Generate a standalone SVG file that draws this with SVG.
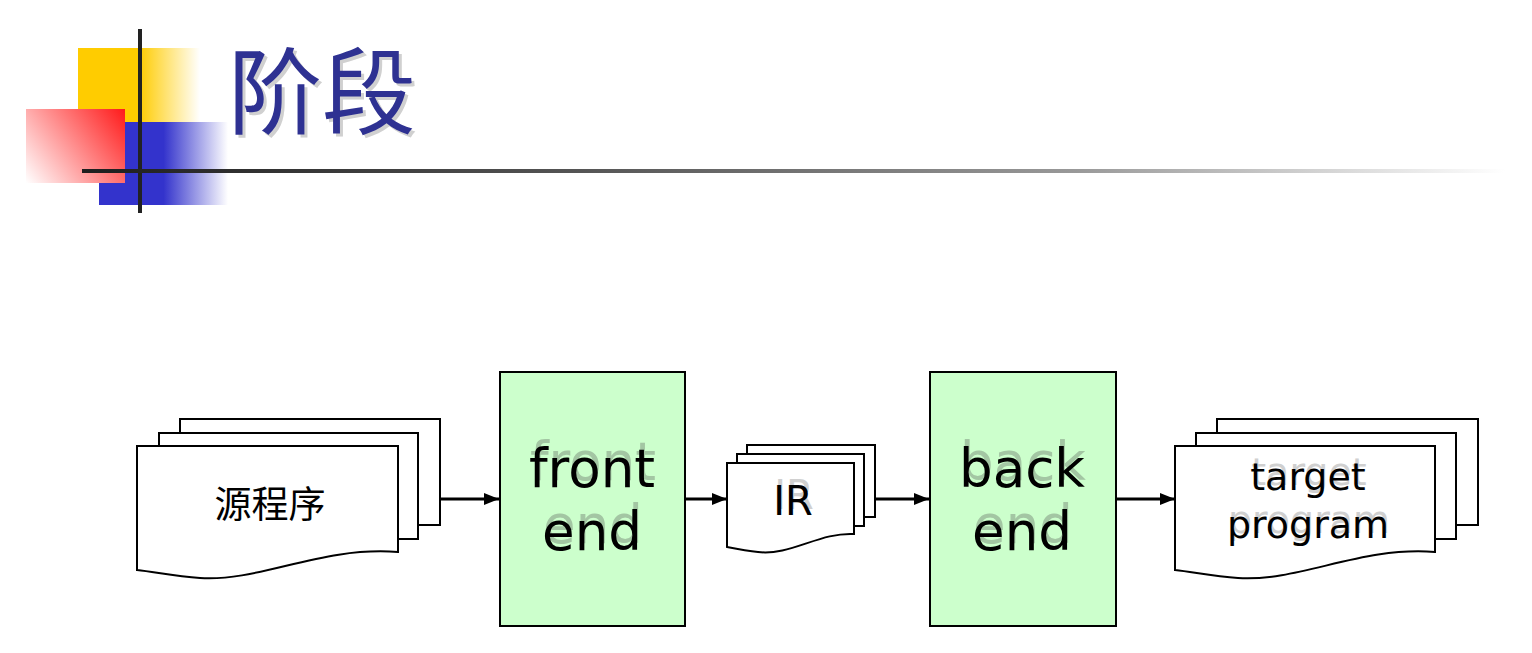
<svg xmlns="http://www.w3.org/2000/svg" width="1532" height="653" viewBox="0 0 1532 653">
<style>
.page{fill:#fff;stroke:#000;stroke-width:2}
.box{fill:#CCFFCC;stroke:#000;stroke-width:2}
.lbl{font-family:"DejaVu Sans",Verdana,sans-serif;text-anchor:middle;fill:#000}
.shd{font-family:"DejaVu Sans",Verdana,sans-serif;text-anchor:middle;fill:#A3C6A3}
.shw{font-family:"DejaVu Sans",Verdana,sans-serif;text-anchor:middle;fill:#D0D0D0}
.conn{stroke:#000;stroke-width:3;fill:none}
</style>
<defs>
<marker id="arr" markerWidth="5" markerHeight="4" viewBox="0 0 10 8" refX="10" refY="4" orient="auto" markerUnits="strokeWidth">
<path d="M0,0 L10,4 L0,8 Z" fill="#000"/>
</marker>
<linearGradient id="gy" x1="78" y1="0" x2="200" y2="0" gradientUnits="userSpaceOnUse">
<stop offset="0.5" stop-color="#FFCC00"/><stop offset="1" stop-color="#FFCC00" stop-opacity="0"/>
</linearGradient>
<linearGradient id="gb" x1="99" y1="0" x2="228" y2="0" gradientUnits="userSpaceOnUse">
<stop offset="0.5" stop-color="#3333CC"/><stop offset="1" stop-color="#3333CC" stop-opacity="0"/>
</linearGradient>
<linearGradient id="gr" x1="125" y1="109" x2="26" y2="183" gradientUnits="userSpaceOnUse">
<stop offset="0" stop-color="#FF1A1A"/><stop offset="1" stop-color="#FFFFFF"/>
</linearGradient>
<linearGradient id="gl" x1="82" y1="0" x2="1505" y2="0" gradientUnits="userSpaceOnUse">
<stop offset="0" stop-color="#1E1E1E"/><stop offset="0.35" stop-color="#555"/><stop offset="0.7" stop-color="#999"/><stop offset="1" stop-color="#fff"/>
</linearGradient>
</defs>
<rect width="1532" height="653" fill="#fff"/>
<g id="title">
<rect x="78" y="48" width="122" height="74" fill="url(#gy)"/>
<rect x="99" y="122" width="129" height="83" fill="url(#gb)"/>
<rect x="26" y="109" width="99" height="74" fill="url(#gr)"/>
<rect x="138" y="29" width="4" height="184" fill="#222"/>
<rect x="82" y="169" width="1423" height="4" fill="url(#gl)"/>
<text x="231" y="130" font-family="'Noto Sans CJK SC',sans-serif" font-size="94" fill="#D0D0D0">阶段</text>
<text x="228" y="127" font-family="'Noto Sans CJK SC',sans-serif" font-size="94" fill="#2E3192">阶段</text>
</g>
<g id="source">
<rect class="page" x="180" y="419" width="260" height="106"/>
<rect class="page" x="159" y="433" width="259" height="106"/>
<path class="page" d="M137,446 H398 V552 C320,546 260,582 200,578 C175,576 155,572 137,570 Z"/>
<text x="270" y="518" font-family="'Noto Sans CJK SC',sans-serif" font-size="37" text-anchor="middle">源程序</text>
</g>
<g id="frontend">
<rect class="box" x="500" y="372" width="185" height="254"/>
<text class="shd" x="593" y="480" font-size="53">front</text>
<text class="shd" x="593" y="543" font-size="53">end</text>
<text class="lbl" x="592" y="487" font-size="53">front</text>
<text class="lbl" x="592" y="550" font-size="53">end</text>
</g>
<g id="ir">
<rect class="page" x="747" y="445" width="128" height="72"/>
<rect class="page" x="737" y="454" width="127" height="72"/>
<path class="page" d="M727,463 H854 V534 C820,532 790,556 758,552 C747,551 737,549 727,547 Z"/>
<text class="shw" x="794" y="509" font-size="40">IR</text>
<text class="lbl" x="793" y="515" font-size="40">IR</text>
</g>
<g id="backend">
<rect class="box" x="930" y="372" width="186" height="254"/>
<text class="shd" x="1023" y="480" font-size="53">back</text>
<text class="shd" x="1023" y="543" font-size="53">end</text>
<text class="lbl" x="1022" y="487" font-size="53">back</text>
<text class="lbl" x="1022" y="550" font-size="53">end</text>
</g>
<g id="target">
<rect class="page" x="1217" y="419" width="261" height="106"/>
<rect class="page" x="1196" y="433" width="260" height="106"/>
<path class="page" d="M1175,446 H1435 V552 C1360,546 1300,582 1238,578 C1213,576 1193,572 1175,570 Z"/>
<text class="shw" x="1309" y="485" font-size="38">target</text>
<text class="shw" x="1309" y="533" font-size="38">program</text>
<text class="lbl" x="1308" y="490" font-size="38">target</text>
<text class="lbl" x="1308" y="538" font-size="38">program</text>
</g>
<g id="connectors">
<line class="conn" x1="441" y1="499" x2="499" y2="499" marker-end="url(#arr)"/>
<line class="conn" x1="686" y1="499" x2="727" y2="499" marker-end="url(#arr)"/>
<line class="conn" x1="876" y1="499" x2="929" y2="499" marker-end="url(#arr)"/>
<line class="conn" x1="1117" y1="499" x2="1175" y2="499" marker-end="url(#arr)"/>
</g>
</svg>
